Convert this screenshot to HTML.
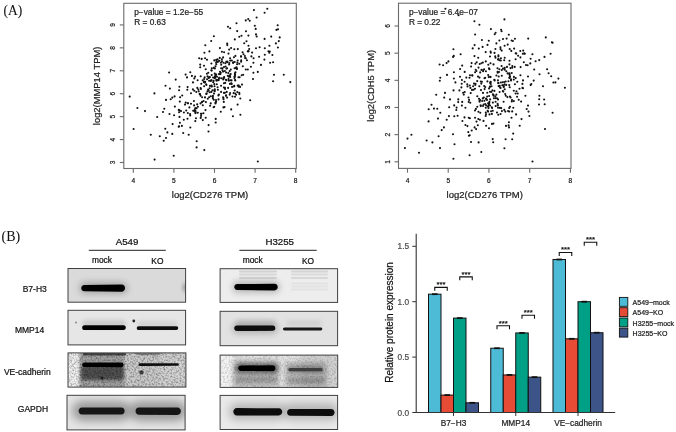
<!DOCTYPE html>
<html><head><meta charset="utf-8"><title>Figure</title>
<style>html,body{margin:0;padding:0;background:#fff;width:676px;height:432px;overflow:hidden}body{position:relative}</style>
</head><body>
<svg width="676" height="432" viewBox="0 0 676 432" style="position:absolute;left:0;top:0">
<g font-family='"Liberation Sans", Arial, Helvetica, sans-serif' stroke-width="0.22">
<text transform="translate(3.6,14.7) scale(1,1.13)" x="0" y="0" font-family='"Liberation Serif", "Times New Roman", serif' font-size="13.5" fill="#111" stroke-width="0.05" stroke="#111">(A)</text>
<rect x="123.8" y="3.3" width="172.5" height="165.2" fill="none" stroke="#6a6a6a" stroke-width="1.1"/>
<line x1="133.30" y1="168.50" x2="133.30" y2="172.80" stroke="#6a6a6a" stroke-width="1.1"/>
<text x="133.30" y="182.90" font-size="6.6" text-anchor="middle" fill="#1a1a1a" stroke="#1a1a1a">4</text>
<line x1="173.90" y1="168.50" x2="173.90" y2="172.80" stroke="#6a6a6a" stroke-width="1.1"/>
<text x="173.90" y="182.90" font-size="6.6" text-anchor="middle" fill="#1a1a1a" stroke="#1a1a1a">5</text>
<line x1="214.50" y1="168.50" x2="214.50" y2="172.80" stroke="#6a6a6a" stroke-width="1.1"/>
<text x="214.50" y="182.90" font-size="6.6" text-anchor="middle" fill="#1a1a1a" stroke="#1a1a1a">6</text>
<line x1="255.10" y1="168.50" x2="255.10" y2="172.80" stroke="#6a6a6a" stroke-width="1.1"/>
<text x="255.10" y="182.90" font-size="6.6" text-anchor="middle" fill="#1a1a1a" stroke="#1a1a1a">7</text>
<line x1="295.70" y1="168.50" x2="295.70" y2="172.80" stroke="#6a6a6a" stroke-width="1.1"/>
<text x="295.70" y="182.90" font-size="6.6" text-anchor="middle" fill="#1a1a1a" stroke="#1a1a1a">8</text>
<line x1="119.80" y1="162.50" x2="123.80" y2="162.50" stroke="#6a6a6a" stroke-width="1.1"/>
<text transform="translate(114.80,162.50) rotate(-90)" font-size="6.6" text-anchor="middle" fill="#1a1a1a" stroke="#1a1a1a">3</text>
<line x1="119.80" y1="139.57" x2="123.80" y2="139.57" stroke="#6a6a6a" stroke-width="1.1"/>
<text transform="translate(114.80,139.57) rotate(-90)" font-size="6.6" text-anchor="middle" fill="#1a1a1a" stroke="#1a1a1a">4</text>
<line x1="119.80" y1="116.64" x2="123.80" y2="116.64" stroke="#6a6a6a" stroke-width="1.1"/>
<text transform="translate(114.80,116.64) rotate(-90)" font-size="6.6" text-anchor="middle" fill="#1a1a1a" stroke="#1a1a1a">5</text>
<line x1="119.80" y1="93.71" x2="123.80" y2="93.71" stroke="#6a6a6a" stroke-width="1.1"/>
<text transform="translate(114.80,93.71) rotate(-90)" font-size="6.6" text-anchor="middle" fill="#1a1a1a" stroke="#1a1a1a">6</text>
<line x1="119.80" y1="70.78" x2="123.80" y2="70.78" stroke="#6a6a6a" stroke-width="1.1"/>
<text transform="translate(114.80,70.78) rotate(-90)" font-size="6.6" text-anchor="middle" fill="#1a1a1a" stroke="#1a1a1a">7</text>
<line x1="119.80" y1="47.85" x2="123.80" y2="47.85" stroke="#6a6a6a" stroke-width="1.1"/>
<text transform="translate(114.80,47.85) rotate(-90)" font-size="6.6" text-anchor="middle" fill="#1a1a1a" stroke="#1a1a1a">8</text>
<line x1="119.80" y1="24.92" x2="123.80" y2="24.92" stroke="#6a6a6a" stroke-width="1.1"/>
<text transform="translate(114.80,24.92) rotate(-90)" font-size="6.6" text-anchor="middle" fill="#1a1a1a" stroke="#1a1a1a">9</text>
<text x="210.05" y="198" font-size="9.5" text-anchor="middle" fill="#222" stroke="#222">log2(CD276 TPM)</text>
<text transform="translate(99.90,85.90) rotate(-90)" font-size="9.4" text-anchor="middle" fill="#222" stroke="#222">log2(MMP14 TPM)</text>
<text x="134.20" y="14.6" font-size="8.3" fill="#222" stroke="#222">p−value = 1.2e−55</text>
<text x="134.20" y="25.1" font-size="8.3" fill="#222" stroke="#222">R = 0.63</text>
<g fill="#111"><circle cx="223.4" cy="98.0" r="1.05"/><circle cx="259.6" cy="47.3" r="1.05"/><circle cx="187.8" cy="103.3" r="1.05"/><circle cx="234.7" cy="62.0" r="1.05"/><circle cx="230.7" cy="74.0" r="1.05"/><circle cx="200.7" cy="76.2" r="1.05"/><circle cx="224.9" cy="71.0" r="1.05"/><circle cx="215.0" cy="76.7" r="1.05"/><circle cx="269.4" cy="45.8" r="1.05"/><circle cx="234.6" cy="76.8" r="1.05"/><circle cx="238.7" cy="86.8" r="1.05"/><circle cx="230.1" cy="93.0" r="1.05"/><circle cx="203.9" cy="81.5" r="1.05"/><circle cx="211.4" cy="91.9" r="1.05"/><circle cx="205.5" cy="110.1" r="1.05"/><circle cx="219.8" cy="57.9" r="1.05"/><circle cx="239.3" cy="36.7" r="1.05"/><circle cx="278.0" cy="29.2" r="1.05"/><circle cx="213.7" cy="67.9" r="1.05"/><circle cx="200.6" cy="88.1" r="1.05"/><circle cx="205.1" cy="58.3" r="1.05"/><circle cx="216.3" cy="64.3" r="1.05"/><circle cx="204.4" cy="52.8" r="1.05"/><circle cx="234.0" cy="86.5" r="1.05"/><circle cx="221.9" cy="51.7" r="1.05"/><circle cx="210.0" cy="85.9" r="1.05"/><circle cx="203.6" cy="101.0" r="1.05"/><circle cx="239.6" cy="77.2" r="1.05"/><circle cx="187.0" cy="77.4" r="1.05"/><circle cx="202.1" cy="97.2" r="1.05"/><circle cx="181.9" cy="125.9" r="1.05"/><circle cx="274.0" cy="74.7" r="1.05"/><circle cx="215.5" cy="66.3" r="1.05"/><circle cx="229.8" cy="76.1" r="1.05"/><circle cx="202.8" cy="120.1" r="1.05"/><circle cx="212.9" cy="95.7" r="1.05"/><circle cx="185.0" cy="104.6" r="1.05"/><circle cx="215.5" cy="75.4" r="1.05"/><circle cx="223.9" cy="83.2" r="1.05"/><circle cx="229.3" cy="63.0" r="1.05"/><circle cx="169.9" cy="88.6" r="1.05"/><circle cx="194.1" cy="105.4" r="1.05"/><circle cx="190.2" cy="115.4" r="1.05"/><circle cx="257.8" cy="71.9" r="1.05"/><circle cx="238.4" cy="77.2" r="1.05"/><circle cx="222.0" cy="61.2" r="1.05"/><circle cx="165.5" cy="85.7" r="1.05"/><circle cx="231.8" cy="60.5" r="1.05"/><circle cx="214.6" cy="78.3" r="1.05"/><circle cx="277.9" cy="47.5" r="1.05"/><circle cx="235.4" cy="55.9" r="1.05"/><circle cx="214.3" cy="84.1" r="1.05"/><circle cx="234.9" cy="74.6" r="1.05"/><circle cx="208.6" cy="125.1" r="1.05"/><circle cx="205.7" cy="117.8" r="1.05"/><circle cx="225.2" cy="82.9" r="1.05"/><circle cx="174.6" cy="96.4" r="1.05"/><circle cx="218.2" cy="80.3" r="1.05"/><circle cx="214.8" cy="89.4" r="1.05"/><circle cx="186.2" cy="110.5" r="1.05"/><circle cx="256.7" cy="36.5" r="1.05"/><circle cx="223.0" cy="71.6" r="1.05"/><circle cx="204.1" cy="86.2" r="1.05"/><circle cx="234.6" cy="68.3" r="1.05"/><circle cx="221.9" cy="59.2" r="1.05"/><circle cx="166.0" cy="99.9" r="1.05"/><circle cx="157.2" cy="117.0" r="1.05"/><circle cx="197.9" cy="106.7" r="1.05"/><circle cx="194.7" cy="110.1" r="1.05"/><circle cx="205.3" cy="45.2" r="1.05"/><circle cx="178.8" cy="109.9" r="1.05"/><circle cx="163.7" cy="140.8" r="1.05"/><circle cx="207.8" cy="98.7" r="1.05"/><circle cx="211.5" cy="80.2" r="1.05"/><circle cx="206.4" cy="85.0" r="1.05"/><circle cx="159.8" cy="136.2" r="1.05"/><circle cx="197.8" cy="112.7" r="1.05"/><circle cx="195.4" cy="112.6" r="1.05"/><circle cx="214.7" cy="73.5" r="1.05"/><circle cx="256.0" cy="34.4" r="1.05"/><circle cx="211.7" cy="75.0" r="1.05"/><circle cx="190.3" cy="72.3" r="1.05"/><circle cx="237.7" cy="85.6" r="1.05"/><circle cx="210.7" cy="103.4" r="1.05"/><circle cx="230.1" cy="58.2" r="1.05"/><circle cx="223.1" cy="57.4" r="1.05"/><circle cx="210.1" cy="105.8" r="1.05"/><circle cx="229.9" cy="75.2" r="1.05"/><circle cx="167.4" cy="132.4" r="1.05"/><circle cx="154.4" cy="93.4" r="1.05"/><circle cx="194.5" cy="110.9" r="1.05"/><circle cx="200.6" cy="95.8" r="1.05"/><circle cx="230.2" cy="77.0" r="1.05"/><circle cx="243.5" cy="54.2" r="1.05"/><circle cx="221.2" cy="64.7" r="1.05"/><circle cx="231.7" cy="83.9" r="1.05"/><circle cx="244.9" cy="56.0" r="1.05"/><circle cx="250.2" cy="100.2" r="1.05"/><circle cx="276.5" cy="29.9" r="1.05"/><circle cx="195.1" cy="76.6" r="1.05"/><circle cx="200.5" cy="103.4" r="1.05"/><circle cx="236.8" cy="68.9" r="1.05"/><circle cx="220.7" cy="72.8" r="1.05"/><circle cx="229.7" cy="94.6" r="1.05"/><circle cx="233.2" cy="62.2" r="1.05"/><circle cx="225.4" cy="63.2" r="1.05"/><circle cx="206.9" cy="73.8" r="1.05"/><circle cx="206.3" cy="93.9" r="1.05"/><circle cx="231.5" cy="80.4" r="1.05"/><circle cx="230.2" cy="28.3" r="1.05"/><circle cx="230.8" cy="69.5" r="1.05"/><circle cx="224.1" cy="52.3" r="1.05"/><circle cx="245.8" cy="20.4" r="1.05"/><circle cx="225.1" cy="89.0" r="1.05"/><circle cx="211.2" cy="80.2" r="1.05"/><circle cx="234.7" cy="76.4" r="1.05"/><circle cx="242.6" cy="52.3" r="1.05"/><circle cx="235.5" cy="72.3" r="1.05"/><circle cx="254.8" cy="25.7" r="1.05"/><circle cx="207.0" cy="59.7" r="1.05"/><circle cx="197.2" cy="104.4" r="1.05"/><circle cx="211.4" cy="70.3" r="1.05"/><circle cx="217.4" cy="62.0" r="1.05"/><circle cx="212.9" cy="98.4" r="1.05"/><circle cx="174.1" cy="115.3" r="1.05"/><circle cx="241.0" cy="56.5" r="1.05"/><circle cx="246.5" cy="41.3" r="1.05"/><circle cx="237.2" cy="31.1" r="1.05"/><circle cx="203.4" cy="113.2" r="1.05"/><circle cx="225.6" cy="66.5" r="1.05"/><circle cx="170.7" cy="99.2" r="1.05"/><circle cx="165.3" cy="128.8" r="1.05"/><circle cx="235.0" cy="96.8" r="1.05"/><circle cx="211.8" cy="86.6" r="1.05"/><circle cx="210.7" cy="81.0" r="1.05"/><circle cx="241.5" cy="35.8" r="1.05"/><circle cx="236.5" cy="23.2" r="1.05"/><circle cx="191.9" cy="75.9" r="1.05"/><circle cx="237.3" cy="92.1" r="1.05"/><circle cx="217.9" cy="89.8" r="1.05"/><circle cx="225.9" cy="95.8" r="1.05"/><circle cx="188.7" cy="134.7" r="1.05"/><circle cx="205.7" cy="69.3" r="1.05"/><circle cx="247.8" cy="69.5" r="1.05"/><circle cx="221.2" cy="78.3" r="1.05"/><circle cx="221.1" cy="85.7" r="1.05"/><circle cx="215.1" cy="77.7" r="1.05"/><circle cx="212.8" cy="96.9" r="1.05"/><circle cx="231.2" cy="109.4" r="1.05"/><circle cx="224.0" cy="67.0" r="1.05"/><circle cx="220.9" cy="62.8" r="1.05"/><circle cx="200.9" cy="113.7" r="1.05"/><circle cx="215.6" cy="76.3" r="1.05"/><circle cx="174.9" cy="106.6" r="1.05"/><circle cx="211.2" cy="41.0" r="1.05"/><circle cx="215.7" cy="122.5" r="1.05"/><circle cx="264.4" cy="59.6" r="1.05"/><circle cx="172.3" cy="133.9" r="1.05"/><circle cx="235.3" cy="80.5" r="1.05"/><circle cx="193.9" cy="101.0" r="1.05"/><circle cx="226.3" cy="61.7" r="1.05"/><circle cx="246.0" cy="31.3" r="1.05"/><circle cx="218.7" cy="80.0" r="1.05"/><circle cx="217.4" cy="80.1" r="1.05"/><circle cx="178.7" cy="126.8" r="1.05"/><circle cx="208.3" cy="72.8" r="1.05"/><circle cx="219.4" cy="60.7" r="1.05"/><circle cx="231.1" cy="48.0" r="1.05"/><circle cx="226.1" cy="95.4" r="1.05"/><circle cx="248.2" cy="51.5" r="1.05"/><circle cx="179.1" cy="126.2" r="1.05"/><circle cx="250.9" cy="66.7" r="1.05"/><circle cx="232.9" cy="116.2" r="1.05"/><circle cx="237.1" cy="64.3" r="1.05"/><circle cx="264.6" cy="12.7" r="1.05"/><circle cx="209.7" cy="92.2" r="1.05"/><circle cx="219.2" cy="77.7" r="1.05"/><circle cx="275.9" cy="43.4" r="1.05"/><circle cx="200.2" cy="64.6" r="1.05"/><circle cx="229.2" cy="49.6" r="1.05"/><circle cx="183.2" cy="133.0" r="1.05"/><circle cx="268.4" cy="51.3" r="1.05"/><circle cx="226.1" cy="72.5" r="1.05"/><circle cx="206.6" cy="93.6" r="1.05"/><circle cx="213.9" cy="36.2" r="1.05"/><circle cx="199.2" cy="58.2" r="1.05"/><circle cx="197.3" cy="87.9" r="1.05"/><circle cx="233.9" cy="57.2" r="1.05"/><circle cx="200.7" cy="117.9" r="1.05"/><circle cx="264.8" cy="48.3" r="1.05"/><circle cx="204.2" cy="79.0" r="1.05"/><circle cx="231.2" cy="83.2" r="1.05"/><circle cx="234.3" cy="85.9" r="1.05"/><circle cx="183.8" cy="119.8" r="1.05"/><circle cx="216.3" cy="79.9" r="1.05"/><circle cx="185.7" cy="102.6" r="1.05"/><circle cx="236.1" cy="94.7" r="1.05"/><circle cx="204.0" cy="65.7" r="1.05"/><circle cx="228.8" cy="80.8" r="1.05"/><circle cx="215.6" cy="74.5" r="1.05"/><circle cx="239.4" cy="94.1" r="1.05"/><circle cx="189.4" cy="107.4" r="1.05"/><circle cx="237.7" cy="60.5" r="1.05"/><circle cx="244.2" cy="43.2" r="1.05"/><circle cx="179.5" cy="110.4" r="1.05"/><circle cx="192.9" cy="89.4" r="1.05"/><circle cx="214.3" cy="60.4" r="1.05"/><circle cx="248.5" cy="45.8" r="1.05"/><circle cx="201.5" cy="113.8" r="1.05"/><circle cx="164.3" cy="108.8" r="1.05"/><circle cx="278.8" cy="41.1" r="1.05"/><circle cx="220.0" cy="71.8" r="1.05"/><circle cx="216.0" cy="100.1" r="1.05"/><circle cx="227.3" cy="61.6" r="1.05"/><circle cx="224.0" cy="92.9" r="1.05"/><circle cx="207.1" cy="79.2" r="1.05"/><circle cx="243.2" cy="74.8" r="1.05"/><circle cx="227.1" cy="68.3" r="1.05"/><circle cx="245.8" cy="69.5" r="1.05"/><circle cx="230.2" cy="60.6" r="1.05"/><circle cx="208.5" cy="131.5" r="1.05"/><circle cx="197.6" cy="80.2" r="1.05"/><circle cx="209.1" cy="97.3" r="1.05"/><circle cx="214.7" cy="91.3" r="1.05"/><circle cx="223.5" cy="62.7" r="1.05"/><circle cx="239.2" cy="63.7" r="1.05"/><circle cx="188.0" cy="103.2" r="1.05"/><circle cx="218.5" cy="99.4" r="1.05"/><circle cx="237.8" cy="49.1" r="1.05"/><circle cx="242.8" cy="66.2" r="1.05"/><circle cx="209.6" cy="88.3" r="1.05"/><circle cx="223.7" cy="78.5" r="1.05"/><circle cx="238.8" cy="85.5" r="1.05"/><circle cx="215.5" cy="102.6" r="1.05"/><circle cx="241.2" cy="60.3" r="1.05"/><circle cx="256.0" cy="48.3" r="1.05"/><circle cx="190.3" cy="127.5" r="1.05"/><circle cx="213.1" cy="77.5" r="1.05"/><circle cx="248.4" cy="35.6" r="1.05"/><circle cx="253.6" cy="58.3" r="1.05"/><circle cx="202.7" cy="80.3" r="1.05"/><circle cx="179.4" cy="86.7" r="1.05"/><circle cx="225.0" cy="87.9" r="1.05"/><circle cx="232.1" cy="86.9" r="1.05"/><circle cx="214.0" cy="93.6" r="1.05"/><circle cx="193.0" cy="82.4" r="1.05"/><circle cx="179.9" cy="122.8" r="1.05"/><circle cx="205.2" cy="81.8" r="1.05"/><circle cx="247.8" cy="51.3" r="1.05"/><circle cx="187.6" cy="87.1" r="1.05"/><circle cx="216.1" cy="62.7" r="1.05"/><circle cx="269.8" cy="51.5" r="1.05"/><circle cx="264.8" cy="54.8" r="1.05"/><circle cx="220.2" cy="73.8" r="1.05"/><circle cx="217.6" cy="87.2" r="1.05"/><circle cx="187.5" cy="118.8" r="1.05"/><circle cx="245.8" cy="58.3" r="1.05"/><circle cx="195.9" cy="108.3" r="1.05"/><circle cx="216.1" cy="101.8" r="1.05"/><circle cx="242.0" cy="84.6" r="1.05"/><circle cx="181.0" cy="111.1" r="1.05"/><circle cx="221.1" cy="68.3" r="1.05"/><circle cx="223.5" cy="99.3" r="1.05"/><circle cx="201.9" cy="102.3" r="1.05"/><circle cx="249.2" cy="49.0" r="1.05"/><circle cx="253.0" cy="79.0" r="1.05"/><circle cx="245.1" cy="58.0" r="1.05"/><circle cx="226.7" cy="91.9" r="1.05"/><circle cx="253.4" cy="72.7" r="1.05"/><circle cx="204.9" cy="82.6" r="1.05"/><circle cx="240.1" cy="86.9" r="1.05"/><circle cx="241.7" cy="75.2" r="1.05"/><circle cx="187.8" cy="113.0" r="1.05"/><circle cx="202.8" cy="105.2" r="1.05"/><circle cx="202.2" cy="101.8" r="1.05"/><circle cx="201.7" cy="58.9" r="1.05"/><circle cx="216.8" cy="84.2" r="1.05"/><circle cx="220.8" cy="111.8" r="1.05"/><circle cx="195.5" cy="113.1" r="1.05"/><circle cx="217.6" cy="59.2" r="1.05"/><circle cx="172.6" cy="124.1" r="1.05"/><circle cx="205.9" cy="102.1" r="1.05"/><circle cx="240.4" cy="114.8" r="1.05"/><circle cx="172.3" cy="97.6" r="1.05"/><circle cx="237.4" cy="62.5" r="1.05"/><circle cx="208.7" cy="77.9" r="1.05"/><circle cx="241.1" cy="56.4" r="1.05"/><circle cx="214.5" cy="90.4" r="1.05"/><circle cx="246.9" cy="60.2" r="1.05"/><circle cx="253.4" cy="62.8" r="1.05"/><circle cx="214.9" cy="68.4" r="1.05"/><circle cx="249.7" cy="20.8" r="1.05"/><circle cx="235.9" cy="67.9" r="1.05"/><circle cx="211.6" cy="85.5" r="1.05"/><circle cx="209.9" cy="77.1" r="1.05"/><circle cx="209.1" cy="80.8" r="1.05"/><circle cx="252.1" cy="52.6" r="1.05"/><circle cx="213.6" cy="107.2" r="1.05"/><circle cx="227.4" cy="62.3" r="1.05"/><circle cx="253.9" cy="10.1" r="1.05"/><circle cx="235.2" cy="93.5" r="1.05"/><circle cx="228.7" cy="76.6" r="1.05"/><circle cx="198.7" cy="91.3" r="1.05"/><circle cx="216.2" cy="59.7" r="1.05"/><circle cx="214.2" cy="106.8" r="1.05"/><circle cx="191.0" cy="93.2" r="1.05"/><circle cx="251.4" cy="56.4" r="1.05"/><circle cx="272.4" cy="55.0" r="1.05"/><circle cx="224.5" cy="107.1" r="1.05"/><circle cx="190.1" cy="114.0" r="1.05"/><circle cx="236.5" cy="67.4" r="1.05"/><circle cx="264.6" cy="38.9" r="1.05"/><circle cx="230.2" cy="80.2" r="1.05"/><circle cx="217.0" cy="76.7" r="1.05"/><circle cx="240.3" cy="98.5" r="1.05"/><circle cx="227.3" cy="45.1" r="1.05"/><circle cx="193.2" cy="110.8" r="1.05"/><circle cx="215.7" cy="118.9" r="1.05"/><circle cx="194.3" cy="78.4" r="1.05"/><circle cx="183.9" cy="112.5" r="1.05"/><circle cx="218.9" cy="78.6" r="1.05"/><circle cx="222.5" cy="68.2" r="1.05"/><circle cx="195.3" cy="121.1" r="1.05"/><circle cx="196.7" cy="141.2" r="1.05"/><circle cx="196.0" cy="118.2" r="1.05"/><circle cx="180.1" cy="97.3" r="1.05"/><circle cx="226.0" cy="79.7" r="1.05"/><circle cx="203.8" cy="82.1" r="1.05"/><circle cx="194.3" cy="90.8" r="1.05"/><circle cx="234.7" cy="90.5" r="1.05"/><circle cx="213.6" cy="80.9" r="1.05"/><circle cx="234.8" cy="39.4" r="1.05"/><circle cx="191.0" cy="103.7" r="1.05"/><circle cx="182.2" cy="95.5" r="1.05"/><circle cx="239.3" cy="92.8" r="1.05"/><circle cx="211.6" cy="70.6" r="1.05"/><circle cx="179.5" cy="116.9" r="1.05"/><circle cx="208.9" cy="77.4" r="1.05"/><circle cx="229.7" cy="71.1" r="1.05"/><circle cx="208.6" cy="90.5" r="1.05"/><circle cx="163.0" cy="112.0" r="1.05"/><circle cx="215.5" cy="103.4" r="1.05"/><circle cx="255.7" cy="28.9" r="1.05"/><circle cx="207.5" cy="91.4" r="1.05"/><circle cx="201.3" cy="83.7" r="1.05"/><circle cx="218.4" cy="61.4" r="1.05"/><circle cx="213.2" cy="82.2" r="1.05"/><circle cx="196.3" cy="92.0" r="1.05"/><circle cx="179.1" cy="90.3" r="1.05"/><circle cx="235.1" cy="80.0" r="1.05"/><circle cx="223.5" cy="77.8" r="1.05"/><circle cx="229.9" cy="83.9" r="1.05"/><circle cx="198.3" cy="89.5" r="1.05"/><circle cx="195.2" cy="108.4" r="1.05"/><circle cx="208.1" cy="89.6" r="1.05"/><circle cx="228.5" cy="79.1" r="1.05"/><circle cx="200.1" cy="94.3" r="1.05"/><circle cx="227.1" cy="97.6" r="1.05"/><circle cx="196.6" cy="108.2" r="1.05"/><circle cx="216.5" cy="61.0" r="1.05"/><circle cx="228.1" cy="87.9" r="1.05"/><circle cx="226.4" cy="68.6" r="1.05"/><circle cx="216.6" cy="80.8" r="1.05"/><circle cx="229.1" cy="64.5" r="1.05"/><circle cx="185.6" cy="74.6" r="1.05"/><circle cx="261.0" cy="64.9" r="1.05"/><circle cx="237.6" cy="104.6" r="1.05"/><circle cx="212.5" cy="90.3" r="1.05"/><circle cx="219.0" cy="74.1" r="1.05"/><circle cx="210.8" cy="96.3" r="1.05"/><circle cx="224.9" cy="92.7" r="1.05"/><circle cx="223.2" cy="79.4" r="1.05"/><circle cx="199.6" cy="93.9" r="1.05"/><circle cx="179.8" cy="101.6" r="1.05"/><circle cx="169.5" cy="114.0" r="1.05"/><circle cx="234.9" cy="73.4" r="1.05"/><circle cx="237.0" cy="68.8" r="1.05"/><circle cx="233.1" cy="62.9" r="1.05"/><circle cx="241.1" cy="61.8" r="1.05"/><circle cx="234.5" cy="78.1" r="1.05"/><circle cx="200.9" cy="89.0" r="1.05"/><circle cx="223.1" cy="97.3" r="1.05"/><circle cx="224.2" cy="77.1" r="1.05"/><circle cx="227.8" cy="75.7" r="1.05"/><circle cx="207.5" cy="76.4" r="1.05"/><circle cx="221.1" cy="91.9" r="1.05"/><circle cx="195.6" cy="111.0" r="1.05"/><circle cx="209.4" cy="51.4" r="1.05"/><circle cx="213.8" cy="99.7" r="1.05"/><circle cx="218.9" cy="94.5" r="1.05"/><circle cx="222.5" cy="70.3" r="1.05"/><circle cx="228.5" cy="53.6" r="1.05"/><circle cx="228.3" cy="73.1" r="1.05"/><circle cx="218.4" cy="95.4" r="1.05"/><circle cx="175.7" cy="79.6" r="1.05"/><circle cx="226.4" cy="80.2" r="1.05"/><circle cx="205.0" cy="97.4" r="1.05"/><circle cx="211.8" cy="68.2" r="1.05"/><circle cx="248.6" cy="51.0" r="1.05"/><circle cx="232.5" cy="96.5" r="1.05"/><circle cx="166.0" cy="138.0" r="1.05"/><circle cx="219.9" cy="48.1" r="1.05"/><circle cx="204.6" cy="77.4" r="1.05"/><circle cx="233.6" cy="93.1" r="1.05"/><circle cx="270.1" cy="62.7" r="1.05"/><circle cx="235.1" cy="75.0" r="1.05"/><circle cx="259.1" cy="56.8" r="1.05"/><circle cx="223.8" cy="101.9" r="1.05"/><circle cx="179.1" cy="112.3" r="1.05"/><circle cx="187.3" cy="89.7" r="1.05"/><circle cx="234.3" cy="49.3" r="1.05"/><circle cx="223.9" cy="87.5" r="1.05"/><circle cx="200.2" cy="67.2" r="1.05"/><circle cx="206.2" cy="84.3" r="1.05"/><circle cx="220.2" cy="74.2" r="1.05"/><circle cx="227.2" cy="43.6" r="1.05"/><circle cx="216.2" cy="74.5" r="1.05"/><circle cx="201.1" cy="115.9" r="1.05"/><circle cx="223.4" cy="107.4" r="1.05"/><circle cx="214.5" cy="86.2" r="1.05"/><circle cx="211.4" cy="63.5" r="1.05"/><circle cx="267.3" cy="8.7" r="1.05"/><circle cx="248.2" cy="19.0" r="1.05"/><circle cx="256.6" cy="17.5" r="1.05"/><circle cx="228.0" cy="26.7" r="1.05"/><circle cx="277.7" cy="25.2" r="1.05"/><circle cx="129.7" cy="96.6" r="1.05"/><circle cx="137.4" cy="108.0" r="1.05"/><circle cx="145.0" cy="111.1" r="1.05"/><circle cx="133.6" cy="129.0" r="1.05"/><circle cx="150.8" cy="134.8" r="1.05"/><circle cx="154.6" cy="159.6" r="1.05"/><circle cx="173.7" cy="155.8" r="1.05"/><circle cx="196.6" cy="147.4" r="1.05"/><circle cx="204.3" cy="150.1" r="1.05"/><circle cx="257.8" cy="161.5" r="1.05"/><circle cx="290.3" cy="82.1" r="1.05"/><circle cx="283.8" cy="74.8" r="1.05"/><circle cx="273.1" cy="81.3" r="1.05"/><circle cx="271.2" cy="36.6" r="1.05"/><circle cx="279.7" cy="37.4" r="1.05"/><circle cx="169.1" cy="72.5" r="1.05"/><circle cx="269.3" cy="52.7" r="1.05"/><circle cx="273.1" cy="62.2" r="1.05"/></g>
<rect x="398.5" y="3.2" width="172.5" height="165.2" fill="none" stroke="#6a6a6a" stroke-width="1.1"/>
<line x1="407.50" y1="168.40" x2="407.50" y2="172.70" stroke="#6a6a6a" stroke-width="1.1"/>
<text x="407.50" y="182.80" font-size="6.6" text-anchor="middle" fill="#1a1a1a" stroke="#1a1a1a">4</text>
<line x1="448.23" y1="168.40" x2="448.23" y2="172.70" stroke="#6a6a6a" stroke-width="1.1"/>
<text x="448.23" y="182.80" font-size="6.6" text-anchor="middle" fill="#1a1a1a" stroke="#1a1a1a">5</text>
<line x1="488.96" y1="168.40" x2="488.96" y2="172.70" stroke="#6a6a6a" stroke-width="1.1"/>
<text x="488.96" y="182.80" font-size="6.6" text-anchor="middle" fill="#1a1a1a" stroke="#1a1a1a">6</text>
<line x1="529.69" y1="168.40" x2="529.69" y2="172.70" stroke="#6a6a6a" stroke-width="1.1"/>
<text x="529.69" y="182.80" font-size="6.6" text-anchor="middle" fill="#1a1a1a" stroke="#1a1a1a">7</text>
<line x1="570.42" y1="168.40" x2="570.42" y2="172.70" stroke="#6a6a6a" stroke-width="1.1"/>
<text x="570.42" y="182.80" font-size="6.6" text-anchor="middle" fill="#1a1a1a" stroke="#1a1a1a">8</text>
<line x1="394.50" y1="161.80" x2="398.50" y2="161.80" stroke="#6a6a6a" stroke-width="1.1"/>
<text transform="translate(389.50,161.80) rotate(-90)" font-size="6.6" text-anchor="middle" fill="#1a1a1a" stroke="#1a1a1a">1</text>
<line x1="394.50" y1="134.64" x2="398.50" y2="134.64" stroke="#6a6a6a" stroke-width="1.1"/>
<text transform="translate(389.50,134.64) rotate(-90)" font-size="6.6" text-anchor="middle" fill="#1a1a1a" stroke="#1a1a1a">2</text>
<line x1="394.50" y1="107.48" x2="398.50" y2="107.48" stroke="#6a6a6a" stroke-width="1.1"/>
<text transform="translate(389.50,107.48) rotate(-90)" font-size="6.6" text-anchor="middle" fill="#1a1a1a" stroke="#1a1a1a">3</text>
<line x1="394.50" y1="80.32" x2="398.50" y2="80.32" stroke="#6a6a6a" stroke-width="1.1"/>
<text transform="translate(389.50,80.32) rotate(-90)" font-size="6.6" text-anchor="middle" fill="#1a1a1a" stroke="#1a1a1a">4</text>
<line x1="394.50" y1="53.16" x2="398.50" y2="53.16" stroke="#6a6a6a" stroke-width="1.1"/>
<text transform="translate(389.50,53.16) rotate(-90)" font-size="6.6" text-anchor="middle" fill="#1a1a1a" stroke="#1a1a1a">5</text>
<line x1="394.50" y1="26.00" x2="398.50" y2="26.00" stroke="#6a6a6a" stroke-width="1.1"/>
<text transform="translate(389.50,26.00) rotate(-90)" font-size="6.6" text-anchor="middle" fill="#1a1a1a" stroke="#1a1a1a">6</text>
<text x="484.75" y="198" font-size="9.5" text-anchor="middle" fill="#222" stroke="#222">log2(CD276 TPM)</text>
<text transform="translate(374.20,85.80) rotate(-90)" font-size="9.4" text-anchor="middle" fill="#222" stroke="#222">log2(CDH5 TPM)</text>
<text x="408.90" y="14.6" font-size="8.3" fill="#222" stroke="#222">p−value = 6.4e−07</text>
<text x="408.90" y="25.1" font-size="8.3" fill="#222" stroke="#222">R = 0.22</text>
<g fill="#111"><circle cx="497.9" cy="105.4" r="1.05"/><circle cx="534.2" cy="69.5" r="1.05"/><circle cx="462.2" cy="101.9" r="1.05"/><circle cx="509.2" cy="73.8" r="1.05"/><circle cx="505.2" cy="94.0" r="1.05"/><circle cx="475.1" cy="34.5" r="1.05"/><circle cx="499.4" cy="69.2" r="1.05"/><circle cx="489.5" cy="114.4" r="1.05"/><circle cx="544.1" cy="99.5" r="1.05"/><circle cx="509.2" cy="85.1" r="1.05"/><circle cx="513.2" cy="133.6" r="1.05"/><circle cx="504.6" cy="45.8" r="1.05"/><circle cx="478.3" cy="119.0" r="1.05"/><circle cx="485.8" cy="61.4" r="1.05"/><circle cx="479.9" cy="119.7" r="1.05"/><circle cx="494.3" cy="79.8" r="1.05"/><circle cx="513.8" cy="101.1" r="1.05"/><circle cx="552.6" cy="42.7" r="1.05"/><circle cx="488.1" cy="103.3" r="1.05"/><circle cx="475.0" cy="88.8" r="1.05"/><circle cx="479.5" cy="77.6" r="1.05"/><circle cx="490.8" cy="52.7" r="1.05"/><circle cx="478.8" cy="48.6" r="1.05"/><circle cx="508.6" cy="125.4" r="1.05"/><circle cx="496.4" cy="43.4" r="1.05"/><circle cx="484.5" cy="78.2" r="1.05"/><circle cx="478.0" cy="76.6" r="1.05"/><circle cx="514.1" cy="48.6" r="1.05"/><circle cx="461.4" cy="87.4" r="1.05"/><circle cx="476.5" cy="121.6" r="1.05"/><circle cx="456.3" cy="110.0" r="1.05"/><circle cx="548.6" cy="73.2" r="1.05"/><circle cx="490.0" cy="105.6" r="1.05"/><circle cx="504.3" cy="109.9" r="1.05"/><circle cx="477.3" cy="106.8" r="1.05"/><circle cx="487.3" cy="92.7" r="1.05"/><circle cx="459.4" cy="90.4" r="1.05"/><circle cx="490.0" cy="56.5" r="1.05"/><circle cx="498.4" cy="56.5" r="1.05"/><circle cx="503.8" cy="86.2" r="1.05"/><circle cx="444.2" cy="97.6" r="1.05"/><circle cx="468.5" cy="97.5" r="1.05"/><circle cx="464.6" cy="81.8" r="1.05"/><circle cx="532.4" cy="54.2" r="1.05"/><circle cx="512.9" cy="41.0" r="1.05"/><circle cx="496.4" cy="75.5" r="1.05"/><circle cx="439.8" cy="80.7" r="1.05"/><circle cx="506.3" cy="71.2" r="1.05"/><circle cx="489.1" cy="96.0" r="1.05"/><circle cx="552.6" cy="112.8" r="1.05"/><circle cx="510.0" cy="106.7" r="1.05"/><circle cx="488.7" cy="105.1" r="1.05"/><circle cx="509.4" cy="64.4" r="1.05"/><circle cx="483.0" cy="92.9" r="1.05"/><circle cx="480.2" cy="72.4" r="1.05"/><circle cx="499.7" cy="85.9" r="1.05"/><circle cx="448.9" cy="116.1" r="1.05"/><circle cx="492.7" cy="139.1" r="1.05"/><circle cx="489.2" cy="103.1" r="1.05"/><circle cx="460.6" cy="54.3" r="1.05"/><circle cx="531.3" cy="84.0" r="1.05"/><circle cx="497.5" cy="68.3" r="1.05"/><circle cx="478.5" cy="67.6" r="1.05"/><circle cx="509.2" cy="111.5" r="1.05"/><circle cx="496.4" cy="94.6" r="1.05"/><circle cx="440.3" cy="112.8" r="1.05"/><circle cx="431.5" cy="104.8" r="1.05"/><circle cx="472.4" cy="75.6" r="1.05"/><circle cx="469.1" cy="99.9" r="1.05"/><circle cx="479.7" cy="64.0" r="1.05"/><circle cx="453.1" cy="56.9" r="1.05"/><circle cx="438.0" cy="118.6" r="1.05"/><circle cx="482.2" cy="101.0" r="1.05"/><circle cx="485.9" cy="71.3" r="1.05"/><circle cx="480.8" cy="106.1" r="1.05"/><circle cx="434.0" cy="108.6" r="1.05"/><circle cx="472.2" cy="75.2" r="1.05"/><circle cx="469.8" cy="85.5" r="1.05"/><circle cx="489.1" cy="103.9" r="1.05"/><circle cx="530.6" cy="85.1" r="1.05"/><circle cx="486.2" cy="105.4" r="1.05"/><circle cx="464.7" cy="71.9" r="1.05"/><circle cx="512.2" cy="111.4" r="1.05"/><circle cx="485.2" cy="87.0" r="1.05"/><circle cx="504.6" cy="84.4" r="1.05"/><circle cx="497.6" cy="71.8" r="1.05"/><circle cx="484.6" cy="89.1" r="1.05"/><circle cx="504.4" cy="19.4" r="1.05"/><circle cx="441.7" cy="130.1" r="1.05"/><circle cx="428.7" cy="109.2" r="1.05"/><circle cx="468.9" cy="135.8" r="1.05"/><circle cx="475.1" cy="72.3" r="1.05"/><circle cx="504.7" cy="89.3" r="1.05"/><circle cx="518.1" cy="55.7" r="1.05"/><circle cx="495.6" cy="32.7" r="1.05"/><circle cx="506.2" cy="84.9" r="1.05"/><circle cx="519.5" cy="88.7" r="1.05"/><circle cx="524.8" cy="53.8" r="1.05"/><circle cx="551.2" cy="76.2" r="1.05"/><circle cx="469.5" cy="77.7" r="1.05"/><circle cx="475.0" cy="110.5" r="1.05"/><circle cx="511.3" cy="50.9" r="1.05"/><circle cx="495.2" cy="56.3" r="1.05"/><circle cx="504.2" cy="60.3" r="1.05"/><circle cx="507.7" cy="44.6" r="1.05"/><circle cx="499.9" cy="107.9" r="1.05"/><circle cx="481.3" cy="83.6" r="1.05"/><circle cx="480.8" cy="81.5" r="1.05"/><circle cx="506.0" cy="125.9" r="1.05"/><circle cx="504.7" cy="67.9" r="1.05"/><circle cx="505.3" cy="111.6" r="1.05"/><circle cx="498.6" cy="86.1" r="1.05"/><circle cx="520.4" cy="75.3" r="1.05"/><circle cx="499.6" cy="92.0" r="1.05"/><circle cx="485.7" cy="116.0" r="1.05"/><circle cx="509.2" cy="108.0" r="1.05"/><circle cx="517.1" cy="96.8" r="1.05"/><circle cx="510.0" cy="76.6" r="1.05"/><circle cx="529.4" cy="116.0" r="1.05"/><circle cx="481.4" cy="63.2" r="1.05"/><circle cx="471.6" cy="63.1" r="1.05"/><circle cx="485.8" cy="112.5" r="1.05"/><circle cx="491.9" cy="113.9" r="1.05"/><circle cx="487.4" cy="81.4" r="1.05"/><circle cx="448.4" cy="61.4" r="1.05"/><circle cx="515.6" cy="59.3" r="1.05"/><circle cx="521.1" cy="101.6" r="1.05"/><circle cx="511.7" cy="73.0" r="1.05"/><circle cx="477.8" cy="125.3" r="1.05"/><circle cx="500.1" cy="87.5" r="1.05"/><circle cx="445.0" cy="92.9" r="1.05"/><circle cx="439.6" cy="64.5" r="1.05"/><circle cx="509.5" cy="60.7" r="1.05"/><circle cx="486.2" cy="99.1" r="1.05"/><circle cx="485.2" cy="104.0" r="1.05"/><circle cx="516.1" cy="114.4" r="1.05"/><circle cx="511.0" cy="80.5" r="1.05"/><circle cx="466.3" cy="77.6" r="1.05"/><circle cx="511.8" cy="101.4" r="1.05"/><circle cx="492.4" cy="90.4" r="1.05"/><circle cx="500.4" cy="47.3" r="1.05"/><circle cx="463.1" cy="92.7" r="1.05"/><circle cx="480.2" cy="100.0" r="1.05"/><circle cx="522.4" cy="83.9" r="1.05"/><circle cx="495.7" cy="106.1" r="1.05"/><circle cx="495.6" cy="98.3" r="1.05"/><circle cx="489.5" cy="69.3" r="1.05"/><circle cx="487.2" cy="96.5" r="1.05"/><circle cx="505.8" cy="95.7" r="1.05"/><circle cx="498.5" cy="59.1" r="1.05"/><circle cx="495.4" cy="49.0" r="1.05"/><circle cx="475.3" cy="85.0" r="1.05"/><circle cx="490.1" cy="99.4" r="1.05"/><circle cx="449.2" cy="107.3" r="1.05"/><circle cx="485.7" cy="52.1" r="1.05"/><circle cx="490.1" cy="76.8" r="1.05"/><circle cx="539.0" cy="104.5" r="1.05"/><circle cx="446.6" cy="63.1" r="1.05"/><circle cx="509.9" cy="96.5" r="1.05"/><circle cx="468.3" cy="132.1" r="1.05"/><circle cx="500.8" cy="60.5" r="1.05"/><circle cx="520.6" cy="67.1" r="1.05"/><circle cx="493.2" cy="142.2" r="1.05"/><circle cx="491.8" cy="107.3" r="1.05"/><circle cx="453.0" cy="134.2" r="1.05"/><circle cx="482.8" cy="98.4" r="1.05"/><circle cx="493.9" cy="98.2" r="1.05"/><circle cx="505.6" cy="139.2" r="1.05"/><circle cx="500.6" cy="88.0" r="1.05"/><circle cx="522.8" cy="53.8" r="1.05"/><circle cx="453.5" cy="90.4" r="1.05"/><circle cx="525.4" cy="95.8" r="1.05"/><circle cx="507.4" cy="97.1" r="1.05"/><circle cx="511.6" cy="40.5" r="1.05"/><circle cx="539.2" cy="99.2" r="1.05"/><circle cx="484.2" cy="86.0" r="1.05"/><circle cx="493.6" cy="95.7" r="1.05"/><circle cx="550.6" cy="53.7" r="1.05"/><circle cx="474.6" cy="127.4" r="1.05"/><circle cx="503.7" cy="87.1" r="1.05"/><circle cx="457.6" cy="115.8" r="1.05"/><circle cx="543.0" cy="86.2" r="1.05"/><circle cx="500.6" cy="114.0" r="1.05"/><circle cx="481.0" cy="90.1" r="1.05"/><circle cx="488.3" cy="64.8" r="1.05"/><circle cx="473.6" cy="89.7" r="1.05"/><circle cx="471.7" cy="130.5" r="1.05"/><circle cx="508.4" cy="81.3" r="1.05"/><circle cx="475.1" cy="117.8" r="1.05"/><circle cx="539.5" cy="74.2" r="1.05"/><circle cx="478.6" cy="142.4" r="1.05"/><circle cx="505.7" cy="81.5" r="1.05"/><circle cx="508.8" cy="34.8" r="1.05"/><circle cx="458.2" cy="102.1" r="1.05"/><circle cx="490.8" cy="84.1" r="1.05"/><circle cx="460.1" cy="69.0" r="1.05"/><circle cx="510.6" cy="97.5" r="1.05"/><circle cx="478.4" cy="111.8" r="1.05"/><circle cx="503.3" cy="91.6" r="1.05"/><circle cx="490.0" cy="91.8" r="1.05"/><circle cx="513.9" cy="76.9" r="1.05"/><circle cx="463.8" cy="94.6" r="1.05"/><circle cx="512.2" cy="67.7" r="1.05"/><circle cx="518.7" cy="99.7" r="1.05"/><circle cx="453.9" cy="78.5" r="1.05"/><circle cx="467.3" cy="84.2" r="1.05"/><circle cx="488.8" cy="40.7" r="1.05"/><circle cx="523.0" cy="80.4" r="1.05"/><circle cx="475.9" cy="108.9" r="1.05"/><circle cx="438.6" cy="136.3" r="1.05"/><circle cx="553.4" cy="82.5" r="1.05"/><circle cx="494.5" cy="52.9" r="1.05"/><circle cx="490.5" cy="63.2" r="1.05"/><circle cx="501.8" cy="70.1" r="1.05"/><circle cx="498.5" cy="83.1" r="1.05"/><circle cx="481.5" cy="69.9" r="1.05"/><circle cx="517.7" cy="93.5" r="1.05"/><circle cx="501.6" cy="66.0" r="1.05"/><circle cx="520.4" cy="57.4" r="1.05"/><circle cx="504.7" cy="57.8" r="1.05"/><circle cx="482.9" cy="62.5" r="1.05"/><circle cx="472.0" cy="89.9" r="1.05"/><circle cx="483.5" cy="120.9" r="1.05"/><circle cx="489.1" cy="88.4" r="1.05"/><circle cx="498.0" cy="99.4" r="1.05"/><circle cx="513.8" cy="79.6" r="1.05"/><circle cx="462.4" cy="121.0" r="1.05"/><circle cx="492.9" cy="94.3" r="1.05"/><circle cx="512.3" cy="66.1" r="1.05"/><circle cx="517.3" cy="81.8" r="1.05"/><circle cx="484.1" cy="69.3" r="1.05"/><circle cx="498.2" cy="83.0" r="1.05"/><circle cx="513.3" cy="107.8" r="1.05"/><circle cx="490.0" cy="86.6" r="1.05"/><circle cx="515.7" cy="53.2" r="1.05"/><circle cx="530.6" cy="58.7" r="1.05"/><circle cx="464.7" cy="92.0" r="1.05"/><circle cx="487.5" cy="44.9" r="1.05"/><circle cx="523.0" cy="88.2" r="1.05"/><circle cx="528.2" cy="38.6" r="1.05"/><circle cx="477.2" cy="81.1" r="1.05"/><circle cx="453.8" cy="55.9" r="1.05"/><circle cx="499.4" cy="60.2" r="1.05"/><circle cx="506.6" cy="38.6" r="1.05"/><circle cx="488.5" cy="108.1" r="1.05"/><circle cx="467.4" cy="126.1" r="1.05"/><circle cx="454.3" cy="116.2" r="1.05"/><circle cx="479.6" cy="101.7" r="1.05"/><circle cx="522.4" cy="87.9" r="1.05"/><circle cx="461.9" cy="105.6" r="1.05"/><circle cx="490.6" cy="81.7" r="1.05"/><circle cx="544.5" cy="56.9" r="1.05"/><circle cx="539.4" cy="95.8" r="1.05"/><circle cx="494.7" cy="80.4" r="1.05"/><circle cx="492.1" cy="108.0" r="1.05"/><circle cx="461.9" cy="80.0" r="1.05"/><circle cx="520.3" cy="51.0" r="1.05"/><circle cx="470.3" cy="102.8" r="1.05"/><circle cx="490.6" cy="51.5" r="1.05"/><circle cx="516.5" cy="91.2" r="1.05"/><circle cx="455.4" cy="82.4" r="1.05"/><circle cx="495.5" cy="57.8" r="1.05"/><circle cx="498.0" cy="107.8" r="1.05"/><circle cx="476.4" cy="71.0" r="1.05"/><circle cx="523.8" cy="62.2" r="1.05"/><circle cx="527.6" cy="65.3" r="1.05"/><circle cx="519.7" cy="125.7" r="1.05"/><circle cx="501.2" cy="108.1" r="1.05"/><circle cx="528.0" cy="105.6" r="1.05"/><circle cx="479.3" cy="86.2" r="1.05"/><circle cx="514.7" cy="66.9" r="1.05"/><circle cx="516.3" cy="53.6" r="1.05"/><circle cx="462.2" cy="65.6" r="1.05"/><circle cx="477.3" cy="96.2" r="1.05"/><circle cx="476.7" cy="62.2" r="1.05"/><circle cx="476.1" cy="129.1" r="1.05"/><circle cx="491.3" cy="92.0" r="1.05"/><circle cx="495.3" cy="96.4" r="1.05"/><circle cx="469.9" cy="118.3" r="1.05"/><circle cx="492.0" cy="123.9" r="1.05"/><circle cx="447.0" cy="74.9" r="1.05"/><circle cx="480.3" cy="112.7" r="1.05"/><circle cx="514.9" cy="38.7" r="1.05"/><circle cx="446.7" cy="119.8" r="1.05"/><circle cx="512.0" cy="100.0" r="1.05"/><circle cx="483.1" cy="71.2" r="1.05"/><circle cx="515.7" cy="78.1" r="1.05"/><circle cx="489.0" cy="128.3" r="1.05"/><circle cx="521.5" cy="119.1" r="1.05"/><circle cx="528.0" cy="76.5" r="1.05"/><circle cx="489.4" cy="101.9" r="1.05"/><circle cx="524.2" cy="53.4" r="1.05"/><circle cx="510.5" cy="68.1" r="1.05"/><circle cx="486.0" cy="114.2" r="1.05"/><circle cx="484.4" cy="100.8" r="1.05"/><circle cx="483.6" cy="104.6" r="1.05"/><circle cx="526.7" cy="109.0" r="1.05"/><circle cx="488.0" cy="106.4" r="1.05"/><circle cx="501.9" cy="111.1" r="1.05"/><circle cx="528.5" cy="111.6" r="1.05"/><circle cx="509.7" cy="49.0" r="1.05"/><circle cx="503.2" cy="85.2" r="1.05"/><circle cx="473.1" cy="86.2" r="1.05"/><circle cx="490.6" cy="77.1" r="1.05"/><circle cx="488.7" cy="77.1" r="1.05"/><circle cx="465.4" cy="107.7" r="1.05"/><circle cx="526.0" cy="65.0" r="1.05"/><circle cx="547.1" cy="69.3" r="1.05"/><circle cx="499.0" cy="72.0" r="1.05"/><circle cx="464.5" cy="117.4" r="1.05"/><circle cx="511.0" cy="79.3" r="1.05"/><circle cx="539.2" cy="60.1" r="1.05"/><circle cx="504.7" cy="69.8" r="1.05"/><circle cx="491.5" cy="86.3" r="1.05"/><circle cx="514.9" cy="84.2" r="1.05"/><circle cx="501.8" cy="75.8" r="1.05"/><circle cx="467.5" cy="86.4" r="1.05"/><circle cx="490.1" cy="83.0" r="1.05"/><circle cx="468.7" cy="102.0" r="1.05"/><circle cx="458.3" cy="99.4" r="1.05"/><circle cx="493.4" cy="123.6" r="1.05"/><circle cx="497.0" cy="98.2" r="1.05"/><circle cx="469.7" cy="135.3" r="1.05"/><circle cx="471.1" cy="66.5" r="1.05"/><circle cx="470.4" cy="87.9" r="1.05"/><circle cx="454.5" cy="144.3" r="1.05"/><circle cx="500.5" cy="49.1" r="1.05"/><circle cx="478.2" cy="57.8" r="1.05"/><circle cx="468.7" cy="117.8" r="1.05"/><circle cx="509.3" cy="73.2" r="1.05"/><circle cx="488.1" cy="111.6" r="1.05"/><circle cx="509.4" cy="78.0" r="1.05"/><circle cx="465.4" cy="125.0" r="1.05"/><circle cx="456.6" cy="107.6" r="1.05"/><circle cx="513.8" cy="90.7" r="1.05"/><circle cx="486.1" cy="125.7" r="1.05"/><circle cx="453.9" cy="72.3" r="1.05"/><circle cx="483.3" cy="70.1" r="1.05"/><circle cx="504.2" cy="82.0" r="1.05"/><circle cx="483.0" cy="106.0" r="1.05"/><circle cx="437.3" cy="108.7" r="1.05"/><circle cx="489.9" cy="86.7" r="1.05"/><circle cx="530.3" cy="63.4" r="1.05"/><circle cx="481.9" cy="40.0" r="1.05"/><circle cx="475.7" cy="69.7" r="1.05"/><circle cx="492.8" cy="110.8" r="1.05"/><circle cx="487.6" cy="110.7" r="1.05"/><circle cx="470.7" cy="93.1" r="1.05"/><circle cx="453.4" cy="158.8" r="1.05"/><circle cx="509.7" cy="87.3" r="1.05"/><circle cx="498.0" cy="59.5" r="1.05"/><circle cx="504.4" cy="148.2" r="1.05"/><circle cx="472.7" cy="48.4" r="1.05"/><circle cx="469.6" cy="155.2" r="1.05"/><circle cx="482.6" cy="46.9" r="1.05"/><circle cx="503.0" cy="68.6" r="1.05"/><circle cx="474.5" cy="56.1" r="1.05"/><circle cx="501.6" cy="31.3" r="1.05"/><circle cx="471.0" cy="142.0" r="1.05"/><circle cx="490.9" cy="29.1" r="1.05"/><circle cx="502.6" cy="82.3" r="1.05"/><circle cx="500.9" cy="82.5" r="1.05"/><circle cx="491.1" cy="111.3" r="1.05"/><circle cx="503.6" cy="101.8" r="1.05"/><circle cx="460.0" cy="76.8" r="1.05"/><circle cx="535.6" cy="61.2" r="1.05"/><circle cx="512.2" cy="139.3" r="1.05"/><circle cx="487.0" cy="100.0" r="1.05"/><circle cx="493.5" cy="64.4" r="1.05"/><circle cx="485.2" cy="77.7" r="1.05"/><circle cx="499.4" cy="40.5" r="1.05"/><circle cx="497.7" cy="72.8" r="1.05"/><circle cx="474.0" cy="83.6" r="1.05"/><circle cx="454.2" cy="105.4" r="1.05"/><circle cx="443.9" cy="127.4" r="1.05"/><circle cx="509.5" cy="77.5" r="1.05"/><circle cx="511.5" cy="117.7" r="1.05"/><circle cx="507.6" cy="73.4" r="1.05"/><circle cx="515.6" cy="93.5" r="1.05"/><circle cx="509.0" cy="127.4" r="1.05"/><circle cx="475.4" cy="63.8" r="1.05"/><circle cx="497.6" cy="103.9" r="1.05"/><circle cx="498.7" cy="76.5" r="1.05"/><circle cx="502.3" cy="85.2" r="1.05"/><circle cx="481.9" cy="81.8" r="1.05"/><circle cx="495.6" cy="101.8" r="1.05"/><circle cx="470.0" cy="75.2" r="1.05"/><circle cx="483.8" cy="97.6" r="1.05"/><circle cx="488.2" cy="75.0" r="1.05"/><circle cx="493.4" cy="94.9" r="1.05"/><circle cx="497.0" cy="112.5" r="1.05"/><circle cx="503.0" cy="39.0" r="1.05"/><circle cx="502.8" cy="91.0" r="1.05"/><circle cx="492.9" cy="102.6" r="1.05"/><circle cx="450.0" cy="99.4" r="1.05"/><circle cx="500.9" cy="58.3" r="1.05"/><circle cx="479.5" cy="100.6" r="1.05"/><circle cx="486.2" cy="98.6" r="1.05"/><circle cx="523.2" cy="50.6" r="1.05"/><circle cx="507.0" cy="66.9" r="1.05"/><circle cx="440.3" cy="77.8" r="1.05"/><circle cx="494.4" cy="90.9" r="1.05"/><circle cx="479.0" cy="98.7" r="1.05"/><circle cx="508.1" cy="111.1" r="1.05"/><circle cx="544.7" cy="104.2" r="1.05"/><circle cx="509.7" cy="74.9" r="1.05"/><circle cx="533.7" cy="80.6" r="1.05"/><circle cx="498.3" cy="114.7" r="1.05"/><circle cx="453.4" cy="49.3" r="1.05"/><circle cx="461.7" cy="83.8" r="1.05"/><circle cx="508.9" cy="122.2" r="1.05"/><circle cx="498.4" cy="55.3" r="1.05"/><circle cx="474.6" cy="45.1" r="1.05"/><circle cx="480.6" cy="105.3" r="1.05"/><circle cx="494.7" cy="34.3" r="1.05"/><circle cx="501.7" cy="50.6" r="1.05"/><circle cx="490.6" cy="82.2" r="1.05"/><circle cx="475.5" cy="83.8" r="1.05"/><circle cx="497.9" cy="80.4" r="1.05"/><circle cx="489.0" cy="68.4" r="1.05"/><circle cx="485.8" cy="107.7" r="1.05"/><circle cx="404.9" cy="148.1" r="1.05"/><circle cx="407.5" cy="138.6" r="1.05"/><circle cx="411.4" cy="134.8" r="1.05"/><circle cx="419.0" cy="152.7" r="1.05"/><circle cx="426.6" cy="140.5" r="1.05"/><circle cx="432.4" cy="142.4" r="1.05"/><circle cx="440.0" cy="148.1" r="1.05"/><circle cx="481.3" cy="152.0" r="1.05"/><circle cx="532.5" cy="161.5" r="1.05"/><circle cx="545.8" cy="37.4" r="1.05"/><circle cx="551.9" cy="42.3" r="1.05"/><circle cx="564.9" cy="87.8" r="1.05"/><circle cx="555.4" cy="82.4" r="1.05"/><circle cx="558.4" cy="78.6" r="1.05"/><circle cx="501.1" cy="29.7" r="1.05"/><circle cx="474.4" cy="21.3" r="1.05"/><circle cx="479.4" cy="24.8" r="1.05"/><circle cx="545.0" cy="129.0" r="1.05"/><circle cx="443.1" cy="65.3" r="1.05"/><circle cx="436.2" cy="94.7" r="1.05"/><circle cx="428.6" cy="121.4" r="1.05"/><circle cx="445.4" cy="8.8" r="1.05"/><circle cx="458.6" cy="15.3" r="1.05"/></g>
<text transform="translate(1.5,241) scale(1,1.1)" x="0" y="0" font-family='"Liberation Serif", "Times New Roman", serif' font-size="14" fill="#111" stroke-width="0.05" stroke="#111">(B)</text>
<text x="127" y="244.9" font-size="9.7" text-anchor="middle" fill="#111" stroke="#111">A549</text>
<line x1="88.8" y1="250.3" x2="165.8" y2="250.3" stroke="#222" stroke-width="1"/>
<text x="102" y="263.0" font-size="8.4" text-anchor="middle" fill="#111" stroke="#111">mock</text>
<text x="157.4" y="263.6" font-size="8.4" text-anchor="middle" fill="#111" stroke="#111">KO</text>
<text x="279.7" y="244.9" font-size="9.7" text-anchor="middle" fill="#111" stroke="#111">H3255</text>
<line x1="239.4" y1="250.3" x2="316.7" y2="250.3" stroke="#222" stroke-width="1"/>
<text x="252.7" y="263.0" font-size="8.4" text-anchor="middle" fill="#111" stroke="#111">mock</text>
<text x="308.1" y="263.6" font-size="8.4" text-anchor="middle" fill="#111" stroke="#111">KO</text>
<text x="22.7" y="291.8" font-size="8.5" fill="#111" stroke="#111">B7-H3</text>
<text x="14.9" y="333.3" font-size="8.5" fill="#111" stroke="#111">MMP14</text>
<text x="3.9" y="374.6" font-size="8.5" fill="#111" stroke="#111">VE-cadherin</text>
<text x="17.8" y="411.7" font-size="8.5" fill="#111" stroke="#111">GAPDH</text>
<defs>
<filter id="b04" x="-20%" y="-100%" width="140%" height="300%"><feGaussianBlur stdDeviation="0.45"/></filter>
<filter id="b06" x="-20%" y="-100%" width="140%" height="300%"><feGaussianBlur stdDeviation="0.6"/></filter>
<filter id="b1" x="-20%" y="-100%" width="140%" height="300%"><feGaussianBlur stdDeviation="1"/></filter>
<filter id="b15" x="-30%" y="-100%" width="160%" height="300%"><feGaussianBlur stdDeviation="1.5"/></filter>
<filter id="b2" x="-30%" y="-150%" width="160%" height="400%"><feGaussianBlur stdDeviation="2"/></filter>
<filter id="b3" x="-40%" y="-150%" width="180%" height="400%"><feGaussianBlur stdDeviation="3"/></filter>
<filter id="b4" x="-50%" y="-200%" width="200%" height="500%"><feGaussianBlur stdDeviation="4"/></filter>
<filter id="noise" x="0" y="0" width="100%" height="100%">
 <feTurbulence type="fractalNoise" baseFrequency="0.55" numOctaves="2" seed="3" result="t"/>
 <feColorMatrix in="t" type="matrix" values="0 0 0 0 0  0 0 0 0 0  0 0 0 0 0  0 0 0 -1.6 0.95" result="n"/>
 <feGaussianBlur in="n" stdDeviation="0.35" result="nb"/>
 <feComposite in="nb" in2="SourceGraphic" operator="in"/>
</filter>
<clipPath id="c1"><rect x="68" y="268.5" width="117.6" height="33.7"/></clipPath>
<clipPath id="c2"><rect x="68" y="310.3" width="117.6" height="34.6"/></clipPath>
<clipPath id="c3"><rect x="68" y="352.9" width="117.9" height="34.2"/></clipPath>
<clipPath id="c4"><rect x="67" y="395.3" width="118.1" height="34.6"/></clipPath>
<clipPath id="d1"><rect x="220.1" y="268.7" width="117.5" height="33.7"/></clipPath>
<clipPath id="d2"><rect x="220.1" y="311.3" width="117.5" height="34.4"/></clipPath>
<clipPath id="d3"><rect x="220.1" y="355.1" width="117.6" height="32.3"/></clipPath>
<clipPath id="d4"><rect x="220.1" y="395.4" width="117.5" height="34.1"/></clipPath>
</defs>
<rect x="68" y="268.5" width="117.6" height="33.7" fill="#dadada"/>
<g clip-path="url(#c1)">
<rect x="79" y="282" width="49" height="12" rx="6.0" fill="#000" opacity="0.22" filter="url(#b3)"/>
<path d="M84.45,284.95 L121.40,284.50 C126.26,284.50 126.26,291.70 121.40,291.70 L84.45,291.25 C80.20,291.25 80.20,284.95 84.45,284.95 Z" fill="#050505" opacity="1" filter="url(#b06)"/>
<rect x="183" y="283" width="9" height="9" rx="4.5" fill="#000" opacity="0.35" filter="url(#b2)"/>
</g>
<rect x="68" y="268.5" width="117.6" height="33.7" fill="none" stroke="#404040" stroke-width="1"/>
<rect x="68" y="310.3" width="117.6" height="34.6" fill="#e6e6e6"/>
<g clip-path="url(#c2)">
<rect x="82" y="320" width="44" height="8" rx="4.0" fill="#000" opacity="0.12" filter="url(#b2)"/>
<rect x="137" y="321" width="41" height="7" rx="3.5" fill="#000" opacity="0.08" filter="url(#b2)"/>
<path d="M84.65,325.15 L123.50,325.30 C126.61,325.30 126.61,329.90 123.50,329.90 L84.65,330.05 C81.34,330.05 81.34,325.15 84.65,325.15 Z" fill="#050505" opacity="1" filter="url(#b06)"/>
<path d="M138.70,326.20 L176.40,326.30 C178.83,326.30 178.83,329.90 176.40,329.90 L138.70,330.00 C136.14,330.00 136.14,326.20 138.70,326.20 Z" fill="#0e0e0e" opacity="1" filter="url(#b04)"/>
<circle cx="133.8" cy="321" r="1.4" fill="#222" filter="url(#b06)"/>
<circle cx="76" cy="322.5" r="1" fill="#888" filter="url(#b06)"/>
</g>
<rect x="68" y="310.3" width="117.6" height="34.6" fill="none" stroke="#404040" stroke-width="1"/>
<rect x="68" y="352.9" width="117.9" height="34.2" fill="#cacaca"/>
<g clip-path="url(#c3)">
<rect x="60" y="350" width="19.5" height="40" fill="#f0f0f0" filter="url(#b1)"/>
<rect x="160" y="356" width="30" height="30" fill="#d4d4d4" filter="url(#b3)"/>
<rect x="79.5" y="350" width="45.0" height="40" rx="0" fill="#000" opacity="0.2" filter="url(#b1)"/>
<rect x="81" y="366" width="43" height="14" rx="3" fill="#000" opacity="0.5" filter="url(#b15)"/>
<rect x="83" y="351" width="43" height="4.600000000000023" rx="1" fill="#000" opacity="0.55" filter="url(#b06)"/>
<rect x="136" y="351" width="24" height="4.199999999999989" rx="1" fill="#000" opacity="0.3" filter="url(#b06)"/>
<circle cx="141.5" cy="372.4" r="2.2" fill="#222" opacity="0.8" filter="url(#b06)"/>
<circle cx="102" cy="378" r="1.6" fill="#222" filter="url(#b06)"/>
<rect x="68" y="352.9" width="117.9" height="34.2" fill="#fff" filter="url(#noise)" opacity="0.55"/>
<path d="M84.50,362.50 L121.20,362.40 C124.44,362.40 124.44,367.20 121.20,367.20 L84.50,367.10 C81.39,367.10 81.39,362.50 84.50,362.50 Z" fill="#050505" opacity="1" filter="url(#b06)"/>
<path d="M140.05,363.25 L177.65,363.35 C179.34,363.35 179.34,365.85 177.65,365.85 L140.05,365.95 C138.23,365.95 138.23,363.25 140.05,363.25 Z" fill="#111" opacity="1" filter="url(#b04)"/>
</g>
<rect x="68" y="352.9" width="117.9" height="34.2" fill="none" stroke="#404040" stroke-width="1"/>
<rect x="67" y="395.3" width="118.1" height="34.6" fill="#e4e4e4"/>
<g clip-path="url(#c4)">
<rect x="72" y="401" width="59" height="20" rx="10.0" fill="#000" opacity="0.32" filter="url(#b4)"/>
<rect x="129" y="401" width="58" height="20" rx="10.0" fill="#000" opacity="0.32" filter="url(#b4)"/>
<path d="M82.20,407.50 L121.10,407.50 C125.82,407.50 125.82,414.50 121.10,414.50 L82.20,414.50 C77.48,414.50 77.48,407.50 82.20,407.50 Z" fill="#141414" opacity="1" filter="url(#b06)"/>
<path d="M139.20,407.60 L177.20,407.50 C182.19,407.50 182.19,414.90 177.20,414.90 L139.20,414.80 C134.34,414.80 134.34,407.60 139.20,407.60 Z" fill="#141414" opacity="1" filter="url(#b06)"/>
</g>
<rect x="67" y="395.3" width="118.1" height="34.6" fill="none" stroke="#404040" stroke-width="1"/>
<rect x="220.1" y="268.7" width="117.5" height="33.7" fill="#ededed"/>
<g clip-path="url(#d1)">
<rect x="239" y="270.4" width="38" height="2.0" rx="1" fill="#000" opacity="0.117" filter="url(#b06)"/>
<rect x="291" y="270.4" width="37" height="2.0" rx="1" fill="#000" opacity="0.10400000000000001" filter="url(#b06)"/>
<rect x="239" y="273.4" width="38" height="2.0" rx="1" fill="#000" opacity="0.081" filter="url(#b06)"/>
<rect x="291" y="273.4" width="37" height="2.0" rx="1" fill="#000" opacity="0.072" filter="url(#b06)"/>
<rect x="239" y="277.0" width="38" height="2.0" rx="1" fill="#000" opacity="0.099" filter="url(#b06)"/>
<rect x="291" y="277.0" width="37" height="2.0" rx="1" fill="#000" opacity="0.08800000000000001" filter="url(#b06)"/>
<rect x="291" y="282.5" width="37" height="2.0" rx="1" fill="#000" opacity="0.04000000000000001" filter="url(#b06)"/>
<rect x="291" y="285.5" width="37" height="2.0" rx="1" fill="#000" opacity="0.04000000000000001" filter="url(#b06)"/>
<rect x="291" y="288.5" width="37" height="2.0" rx="1" fill="#000" opacity="0.04000000000000001" filter="url(#b06)"/>
<rect x="232" y="281" width="48" height="12" rx="6.0" fill="#000" opacity="0.22" filter="url(#b3)"/>
<path d="M237.30,284.10 L274.40,283.80 C278.85,283.80 278.85,290.40 274.40,290.40 L237.30,290.10 C233.25,290.10 233.25,284.10 237.30,284.10 Z" fill="#050505" opacity="1" filter="url(#b06)"/>
</g>
<rect x="220.1" y="268.7" width="117.5" height="33.7" fill="none" stroke="#404040" stroke-width="1"/>
<rect x="220.1" y="311.3" width="117.5" height="34.4" fill="#e2e2e2"/>
<g clip-path="url(#d2)">
<rect x="236" y="320" width="40" height="7" rx="3.5" fill="#000" opacity="0.08" filter="url(#b2)"/>
<rect x="286" y="320" width="36" height="7" rx="3.5" fill="#000" opacity="0.07" filter="url(#b2)"/>
<rect x="232" y="322" width="46" height="12" rx="6.0" fill="#000" opacity="0.2" filter="url(#b3)"/>
<path d="M237.10,325.40 L272.70,325.60 C276.21,325.60 276.21,330.80 272.70,330.80 L237.10,331.00 C233.32,331.00 233.32,325.40 237.10,325.40 Z" fill="#080808" opacity="1" filter="url(#b06)"/>
<path d="M284.50,327.50 L320.90,327.60 C322.79,327.60 322.79,330.40 320.90,330.40 L284.50,330.50 C282.48,330.50 282.48,327.50 284.50,327.50 Z" fill="#141414" opacity="1" filter="url(#b04)"/>
</g>
<rect x="220.1" y="311.3" width="117.5" height="34.4" fill="none" stroke="#404040" stroke-width="1"/>
<rect x="220.1" y="355.1" width="117.6" height="32.3" fill="#e4e4e4"/>
<g clip-path="url(#d3)">
<rect x="214" y="352" width="18" height="40" fill="#f4f4f4" filter="url(#b2)"/>
<rect x="300" y="352" width="40" height="40" fill="#d2d2d2" filter="url(#b3)"/>
<rect x="233" y="360" width="46" height="27" rx="4" fill="#000" opacity="0.22" filter="url(#b2)"/>
<rect x="285" y="362" width="42" height="25" rx="4" fill="#000" opacity="0.2" filter="url(#b2)"/>
<rect x="236" y="377" width="40" height="5" rx="2" fill="#000" opacity="0.12" filter="url(#b1)"/>
<rect x="288" y="378" width="36" height="5" rx="2" fill="#000" opacity="0.12" filter="url(#b1)"/>
<rect x="220.1" y="355.1" width="117.6" height="32.3" fill="#fff" filter="url(#noise)" opacity="0.28"/>
<rect x="235" y="363" width="44" height="11" rx="5.5" fill="#000" opacity="0.3" filter="url(#b15)"/>
<path d="M240.90,365.50 L272.40,365.20 C276.45,365.20 276.45,371.20 272.40,371.20 L240.90,370.90 C237.25,370.90 237.25,365.50 240.90,365.50 Z" fill="#050505" opacity="1" filter="url(#b06)"/>
<rect x="288" y="366" width="35" height="7" rx="3.5" fill="#000" opacity="0.18" filter="url(#b1)"/>
<path d="M290.00,368.00 L321.10,368.00 C323.26,368.00 323.26,371.20 321.10,371.20 L290.00,371.20 C287.84,371.20 287.84,368.00 290.00,368.00 Z" fill="#3c3c3c" opacity="1" filter="url(#b06)"/>
</g>
<rect x="220.1" y="355.1" width="117.6" height="32.3" fill="none" stroke="#404040" stroke-width="1"/>
<rect x="220.1" y="395.4" width="117.5" height="34.1" fill="#e9e9e9"/>
<g clip-path="url(#d4)">
<rect x="229" y="403" width="57" height="17" rx="8.5" fill="#000" opacity="0.22" filter="url(#b4)"/>
<rect x="283" y="403" width="56" height="17" rx="8.5" fill="#000" opacity="0.22" filter="url(#b4)"/>
<path d="M237.10,408.10 L278.60,408.20 C283.46,408.20 283.46,415.40 278.60,415.40 L237.10,415.50 C232.11,415.50 232.11,408.10 237.10,408.10 Z" fill="#0a0a0a" opacity="1" filter="url(#b06)"/>
<path d="M290.60,409.00 L331.00,408.90 C335.73,408.90 335.73,415.90 331.00,415.90 L290.60,415.80 C286.01,415.80 286.01,409.00 290.60,409.00 Z" fill="#0a0a0a" opacity="1" filter="url(#b06)"/>
</g>
<rect x="220.1" y="395.4" width="117.5" height="34.1" fill="none" stroke="#404040" stroke-width="1"/>
<rect x="428.50" y="294.17" width="12.5" height="118.33" fill="#4DBBD5" stroke="#111" stroke-width="1"/>
<rect x="441.00" y="395.10" width="12.5" height="17.40" fill="#E64B35" stroke="#111" stroke-width="1"/>
<rect x="453.50" y="318.10" width="12.5" height="94.40" fill="#00A087" stroke="#111" stroke-width="1"/>
<rect x="466.00" y="402.81" width="12.5" height="9.69" fill="#3C5488" stroke="#111" stroke-width="1"/>
<rect x="431.95" y="293.27" width="5.6" height="1.8" fill="#111"/>
<rect x="444.45" y="394.20" width="5.6" height="1.8" fill="#111"/>
<rect x="456.95" y="317.20" width="5.6" height="1.8" fill="#111"/>
<rect x="469.45" y="401.91" width="5.6" height="1.8" fill="#111"/>
<path d="M434.75,290.80 V287.40 H447.25 V290.80" fill="none" stroke="#111" stroke-width="1.1"/>
<text x="441.00" y="287.10" font-size="7.8" text-anchor="middle" fill="#111" stroke="#111">***</text>
<path d="M459.75,280.30 V276.90 H472.25 V280.30" fill="none" stroke="#111" stroke-width="1.1"/>
<text x="466.00" y="276.60" font-size="7.8" text-anchor="middle" fill="#111" stroke="#111">***</text>
<line x1="453.5" y1="412.5" x2="453.5" y2="416.0" stroke="#333" stroke-width="1"/>
<text x="453.5" y="426" font-size="8.3" text-anchor="middle" fill="#222" stroke="#222">B7−H3</text>
<rect x="490.75" y="348.24" width="12.5" height="64.26" fill="#4DBBD5" stroke="#111" stroke-width="1"/>
<rect x="503.25" y="374.94" width="12.5" height="37.56" fill="#E64B35" stroke="#111" stroke-width="1"/>
<rect x="515.75" y="332.95" width="12.5" height="79.55" fill="#00A087" stroke="#111" stroke-width="1"/>
<rect x="528.25" y="377.15" width="12.5" height="35.35" fill="#3C5488" stroke="#111" stroke-width="1"/>
<rect x="494.20" y="347.34" width="5.6" height="1.8" fill="#111"/>
<rect x="506.70" y="374.04" width="5.6" height="1.8" fill="#111"/>
<rect x="519.20" y="332.05" width="5.6" height="1.8" fill="#111"/>
<rect x="531.70" y="376.25" width="5.6" height="1.8" fill="#111"/>
<path d="M497.00,329.20 V325.80 H509.50 V329.20" fill="none" stroke="#111" stroke-width="1.1"/>
<text x="503.25" y="325.50" font-size="7.8" text-anchor="middle" fill="#111" stroke="#111">***</text>
<path d="M522.00,318.70 V315.30 H534.50 V318.70" fill="none" stroke="#111" stroke-width="1.1"/>
<text x="528.25" y="315.00" font-size="7.8" text-anchor="middle" fill="#111" stroke="#111">***</text>
<line x1="515.75" y1="412.5" x2="515.75" y2="416.0" stroke="#333" stroke-width="1"/>
<text x="515.75" y="426" font-size="8.3" text-anchor="middle" fill="#222" stroke="#222">MMP14</text>
<rect x="553.00" y="259.49" width="12.5" height="153.01" fill="#4DBBD5" stroke="#111" stroke-width="1"/>
<rect x="565.50" y="338.82" width="12.5" height="73.68" fill="#E64B35" stroke="#111" stroke-width="1"/>
<rect x="578.00" y="301.70" width="12.5" height="110.80" fill="#00A087" stroke="#111" stroke-width="1"/>
<rect x="590.50" y="332.72" width="12.5" height="79.78" fill="#3C5488" stroke="#111" stroke-width="1"/>
<rect x="556.45" y="258.59" width="5.6" height="1.8" fill="#111"/>
<rect x="568.95" y="337.92" width="5.6" height="1.8" fill="#111"/>
<rect x="581.45" y="300.80" width="5.6" height="1.8" fill="#111"/>
<rect x="593.95" y="331.82" width="5.6" height="1.8" fill="#111"/>
<path d="M559.25,255.90 V252.50 H571.75 V255.90" fill="none" stroke="#111" stroke-width="1.1"/>
<text x="565.50" y="252.20" font-size="7.8" text-anchor="middle" fill="#111" stroke="#111">***</text>
<path d="M584.25,245.70 V242.30 H596.75 V245.70" fill="none" stroke="#111" stroke-width="1.1"/>
<text x="590.50" y="242.00" font-size="7.8" text-anchor="middle" fill="#111" stroke="#111">***</text>
<line x1="578.0" y1="412.5" x2="578.0" y2="416.0" stroke="#333" stroke-width="1"/>
<text x="578.0" y="426" font-size="8.3" text-anchor="middle" fill="#222" stroke="#222">VE−cadherin</text>
<line x1="416.2" y1="233.8" x2="416.2" y2="412.5" stroke="#333" stroke-width="1.1"/>
<line x1="415.7" y1="412.5" x2="615.2" y2="412.5" stroke="#333" stroke-width="1.1"/>
<line x1="412.3" y1="412.50" x2="416.2" y2="412.50" stroke="#333" stroke-width="1"/>
<text x="409.1" y="415.50" font-size="8.3" text-anchor="end" fill="#4d4d4d" stroke="#4d4d4d">0.0</text>
<line x1="412.3" y1="357.10" x2="416.2" y2="357.10" stroke="#333" stroke-width="1"/>
<text x="409.1" y="360.10" font-size="8.3" text-anchor="end" fill="#4d4d4d" stroke="#4d4d4d">0.5</text>
<line x1="412.3" y1="301.70" x2="416.2" y2="301.70" stroke="#333" stroke-width="1"/>
<text x="409.1" y="304.70" font-size="8.3" text-anchor="end" fill="#4d4d4d" stroke="#4d4d4d">1.0</text>
<line x1="412.3" y1="246.30" x2="416.2" y2="246.30" stroke="#333" stroke-width="1"/>
<text x="409.1" y="249.30" font-size="8.3" text-anchor="end" fill="#4d4d4d" stroke="#4d4d4d">1.5</text>
<text transform="translate(392.7,322.5) rotate(-90)" font-size="10" text-anchor="middle" fill="#111" stroke="#111">Relative protein expression</text>
<rect x="619.4" y="297.40" width="8.4" height="8.9" fill="#4DBBD5" stroke="#111" stroke-width="0.9"/>
<text x="632.6" y="304.90" font-size="7" fill="#222" stroke="#222">A549−mock</text>
<rect x="619.4" y="307.70" width="8.4" height="8.9" fill="#E64B35" stroke="#111" stroke-width="0.9"/>
<text x="632.6" y="315.20" font-size="7" fill="#222" stroke="#222">A549−KO</text>
<rect x="619.4" y="318.00" width="8.4" height="8.9" fill="#00A087" stroke="#111" stroke-width="0.9"/>
<text x="632.6" y="325.50" font-size="7" fill="#222" stroke="#222">H3255−mock</text>
<rect x="619.4" y="328.20" width="8.4" height="8.9" fill="#3C5488" stroke="#111" stroke-width="0.9"/>
<text x="632.6" y="335.70" font-size="7" fill="#222" stroke="#222">H3255−KO</text>
</g></svg>
</body></html>
